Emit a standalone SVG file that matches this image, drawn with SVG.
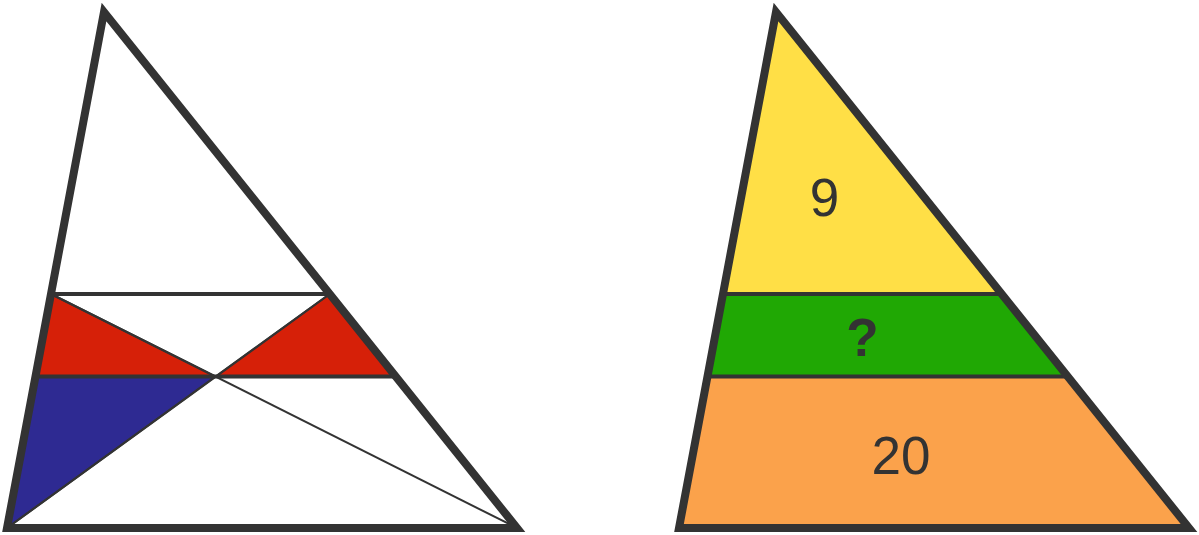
<svg xmlns="http://www.w3.org/2000/svg" width="1199" height="535" viewBox="0 0 1199 535">
<style>
.outline{fill:none;stroke:#333333;stroke-width:8;stroke-linejoin:miter;stroke-miterlimit:20}
.band{stroke:#333333;stroke-width:4;fill:none}
.thin{stroke:#333333;stroke-width:2;fill:none}
.red{fill:#D62008;stroke:#333333;stroke-width:2;stroke-linejoin:round}
.blue{fill:#2E2A92;stroke:#333333;stroke-width:2;stroke-linejoin:round}
.lbl{font-family:"Liberation Sans",Arial,sans-serif;font-size:53px;fill:#333333;text-anchor:middle}
</style>
<rect width="1199" height="535" fill="#ffffff"/>
<g id="left-triangle">
  <polygon points="104,12 7,528 517,528" fill="#ffffff"/>
  <polygon class="red" points="51,294 35.5,376.5 215.5,376.5"/>
  <polygon class="red" points="329.7,294 215.5,376.5 395.7,376.5"/>
  <polygon class="blue" points="35.5,376.5 215.5,376.5 7,528"/>
</g>
<g id="connectors">
  <line class="thin" x1="51" y1="294" x2="517" y2="528"/>
  <line class="thin" x1="329.7" y1="294" x2="7" y2="528"/>
  <line class="band" x1="51" y1="294" x2="329.7" y2="294"/>
  <line class="band" x1="35.5" y1="376.5" x2="395.7" y2="376.5"/>
</g>
<g id="left-outline">
  <polygon class="outline" points="104,12 7,528 517,528"/>
</g>
<g id="right-triangle">
  <polygon points="776,12 723,294 1001.7,294" fill="#FFDF46"/>
  <polygon points="723,294 707.5,376.5 1067.7,376.5 1001.7,294" fill="#20A804"/>
  <polygon points="707.5,376.5 679,528 1189,528 1067.7,376.5" fill="#FBA24B"/>
  <line class="band" x1="723" y1="294" x2="1001.7" y2="294"/>
  <line class="band" x1="707.5" y1="376.5" x2="1067.7" y2="376.5"/>
  <polygon class="outline" points="776,12 679,528 1189,528"/>
</g>
<g id="label-9"><text class="lbl" x="824.5" y="216">9</text></g>
<g id="label-q"><text class="lbl" x="862.5" y="356" font-weight="bold">?</text></g>
<g id="label-20"><text class="lbl" x="901" y="474">20</text></g>
</svg>
